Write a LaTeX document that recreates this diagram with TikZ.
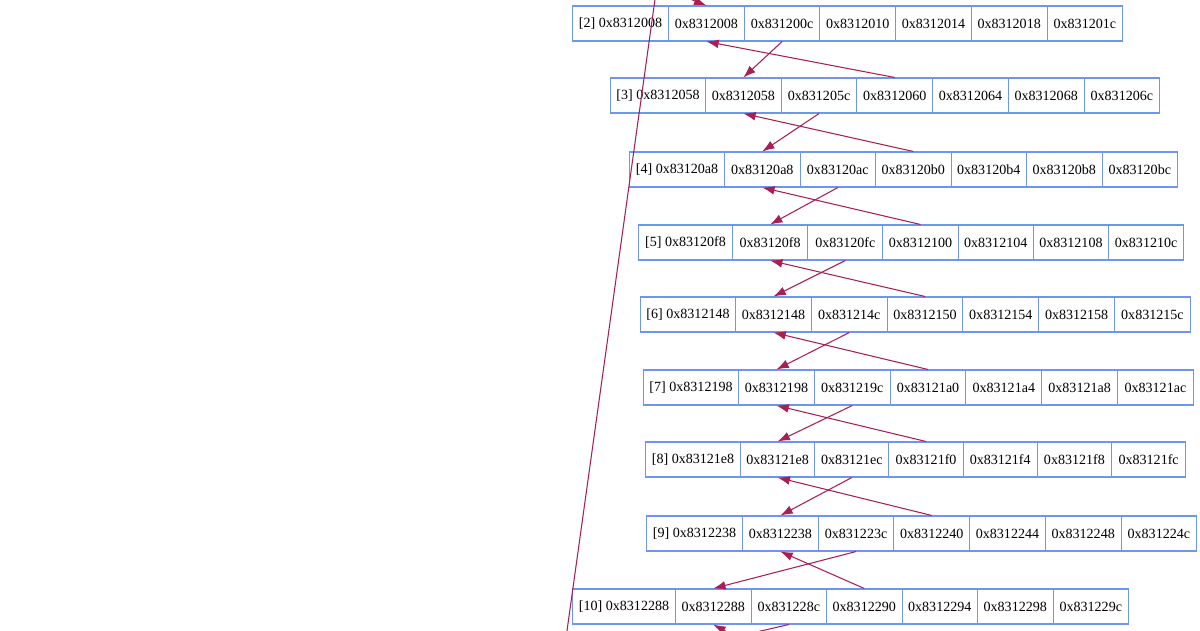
\documentclass[tikz,border=0pt]{standalone}
\usepackage{fontspec}
\setmainfont{Liberation Serif}
\usetikzlibrary{arrows.meta}
\definecolor{cellblue}{RGB}{110,150,240}
\definecolor{linkred}{RGB}{170,30,85}
\tikzset{
	cell/.style={draw=cellblue, line width=0.6pt, minimum height=0.7cm, inner sep=0pt, font=\fontsize{8}{9}\selectfont, anchor=west},
	link/.style={draw=linkred, line width=0.6pt, -{Latex[length=7pt,width=5pt]}}
}

\begin{document}
\begin{tikzpicture}[x=0.02cm, y=-0.02cm]
		% page frame
		\useasboundingbox (0,0) rectangle (1200,630);
		
		% the rows of cells
		\foreach \r/\x/\y/\fw/\w/\base/\cells in {
			2/572/23.5/96/75.7/0x8312008/{0x8312008,0x831200c,0x8312010,0x8312014,0x8312018,0x831201c},
			3/610/95.5/95/75.7/0x8312058/{0x8312058,0x831205c,0x8312060,0x8312064,0x8312068,0x831206c},
			4/629/169.5/95/75.5/0x83120a8/{0x83120a8,0x83120ac,0x83120b0,0x83120b4,0x83120b8,0x83120bc},
			5/638/242.5/94/75.2/0x83120f8/{0x83120f8,0x83120fc,0x8312100,0x8312104,0x8312108,0x831210c},
			6/640/314.5/95/75.8/0x8312148/{0x8312148,0x831214c,0x8312150,0x8312154,0x8312158,0x831215c},
			7/643/387.5/95/75.8/0x8312198/{0x8312198,0x831219c,0x83121a0,0x83121a4,0x83121a8,0x83121ac},
			8/645/459.5/95/74.2/0x83121e8/{0x83121e8,0x83121ec,0x83121f0,0x83121f4,0x83121f8,0x83121fc},
			9/646/533.5/96/75.7/0x8312238/{0x8312238,0x831223c,0x8312240,0x8312244,0x8312248,0x831224c},
			10/572/606.5/103/75.5/0x8312288/{0x8312288,0x831228c,0x8312290,0x8312294,0x8312298,0x831229c}}
		{
			\node[cell, minimum width=\fw*0.02cm] (r\r c1) at (\x,\y) {[\r] \base};
			\foreach \t [count=\k from 2] in \cells {
				\pgfmathsetmacro{\cx}{\x+\fw+(\k-2)*\w}
				\node[cell, minimum width=\w*0.02cm] (r\r c\k) at (\cx,\y) {\t};
			}
		}
		
		% links between the rows
		\foreach \r [evaluate=\r as \n using int(\r+1)] in {2,...,9} {
			\draw[link] (r\r c3.south) -- (r\n c2.north);
			\draw[link] (r\n c4.north) -- (r\r c2.south);
		}
		
		% links leaving the picture
		\coordinate (top) at (655,-15);
		\coordinate (low) at (700,645);
		\coordinate (lowin) at (760,650);
		\coordinate (farlow) at (565,645);
		\coordinate (fartop) at (657,-15);
		\draw[link] (top) -- (r2c2.north);
		\draw[draw=linkred, line width=0.6pt] (r10c3.south) -- (low);
		\draw[link] (lowin) -- (r10c2.south);
		\draw[draw=linkred, line width=0.6pt] (farlow) -- (fartop);
		
	\end{tikzpicture}
\end{document}
